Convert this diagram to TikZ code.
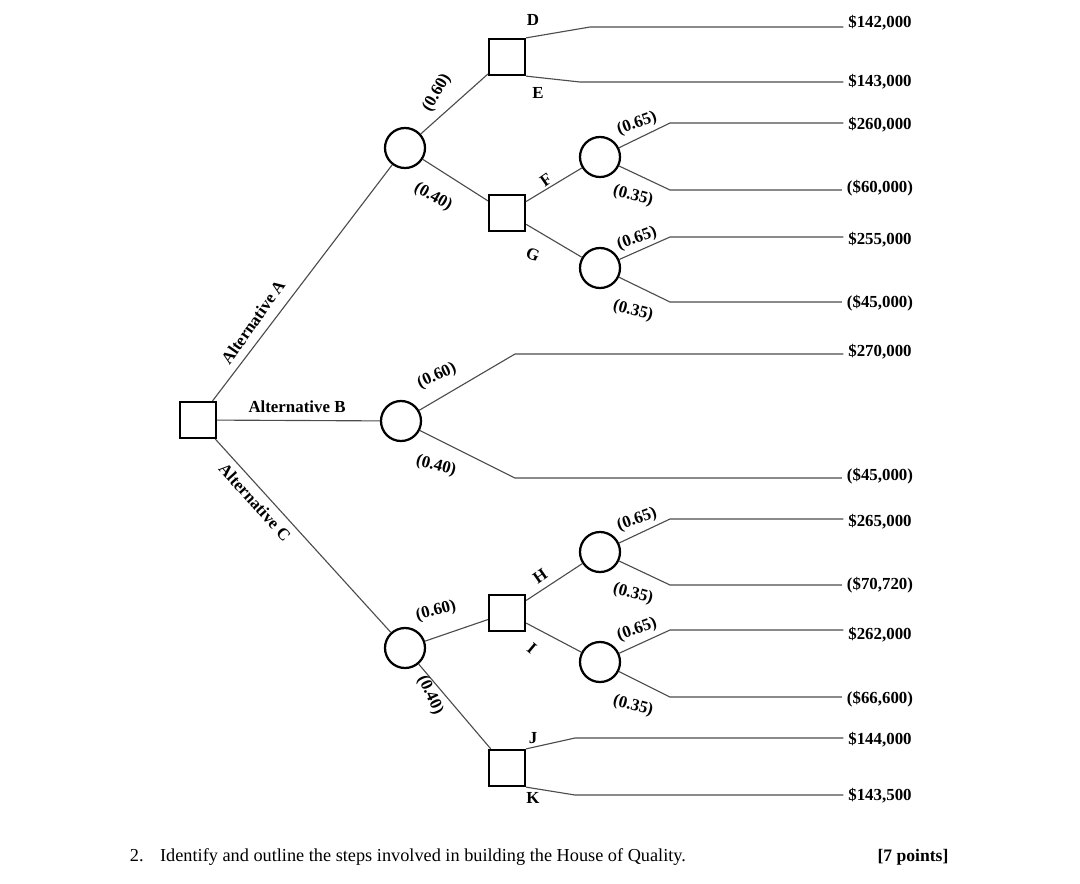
\documentclass[tikz,border=0pt]{standalone}
\usepackage{fontspec}
\setmainfont{Liberation Serif}
\begin{document}
\begin{tikzpicture}[x=0.025cm,y=-0.025cm,
  sq/.style={draw,line width=1.6pt,minimum size=0.9cm,inner sep=0},
  ch/.style={draw,line width=1.6pt,circle,minimum size=1cm,inner sep=0},
  ln/.style={line width=0.8pt,draw=black!70},
  lb/.style={font=\bfseries\fontsize{12}{14}\selectfont,inner sep=1pt},
  val/.style={font=\bfseries\fontsize{12}{14}\selectfont,anchor=center}]
\useasboundingbox (0,0) rectangle (1080,883);
\node[sq] (r) at (198,420) {};
\node[ch] (ca) at (405,148) {};
\node[ch] (cb) at (401,421) {};
\node[ch] (cc) at (405,648) {};
\node[sq] (de) at (507,57) {};
\node[sq] (fg) at (507,213) {};
\node[ch] (cf) at (600,157) {};
\node[ch] (cg) at (600,268) {};
\node[sq] (hi) at (507,613) {};
\node[sq] (jk) at (507,768) {};
\node[ch] (ch) at (600,552) {};
\node[ch] (ci) at (600,662) {};
% values
\foreach \n/\y/\t in {v1/23/{\$142,000},v2/82/{\$143,000},v3/125/{\$260,000},v4/188/{(\$60,000)},v5/240/{\$255,000},v6/303/{(\$45,000)},v7/352/{\$270,000},v8/476/{(\$45,000)},v9/522/{\$265,000},v10/585/{(\$70,720)},v11/635/{\$262,000},v12/699/{(\$66,600)},v13/740/{\$144,000},v14/796/{\$143,500}}
  \node[val] (\n) at (880,\y) {\t};
\coordinate (e1) at (590,27); \coordinate (e2) at (580,82);
\coordinate (e3) at (670,123); \coordinate (e4) at (670,190);
\coordinate (e5) at (670,237); \coordinate (e6) at (670,302);
\coordinate (e7) at (515,354); \coordinate (e8) at (515,478);
\coordinate (e9) at (670,519); \coordinate (e10) at (670,585);
\coordinate (e11) at (670,630); \coordinate (e12) at (670,697);
\coordinate (e13) at (575,738); \coordinate (e14) at (575,795);
\draw[ln] (r) -- (ca); \draw[ln] (r) -- (cb); \draw[ln] (r) -- (cc);
\draw[ln] (ca) -- (de); \draw[ln] (ca) -- (fg);
\draw[ln] (fg) -- (cf); \draw[ln] (fg) -- (cg);
\draw[ln] (cc) -- (hi); \draw[ln] (cc) -- (jk);
\draw[ln] (hi) -- (ch); \draw[ln] (hi) -- (ci);
\draw[ln] (de.north east) -- (e1) -- (v1.west|-e1);
\draw[ln] (de.south east) -- (e2) -- (v2.west|-e2);
\draw[ln] (cf) -- (e3) -- (v3.west|-e3);
\draw[ln] (cf) -- (e4) -- (v4.west|-e4);
\draw[ln] (cg) -- (e5) -- (v5.west|-e5);
\draw[ln] (cg) -- (e6) -- (v6.west|-e6);
\draw[ln] (cb) -- (e7) -- (v7.west|-e7);
\draw[ln] (cb) -- (e8) -- (v8.west|-e8);
\draw[ln] (ch) -- (e9) -- (v9.west|-e9);
\draw[ln] (ch) -- (e10) -- (v10.west|-e10);
\draw[ln] (ci) -- (e11) -- (v11.west|-e11);
\draw[ln] (ci) -- (e12) -- (v12.west|-e12);
\draw[ln] (jk.north east) -- (e13) -- (v13.west|-e13);
\draw[ln] (jk.south east) -- (e14) -- (v14.west|-e14);
% labels
\node[lb,rotate=55] (la) at (253,322) {Alternative A};
\node[lb] (lbb) at (297,407) {Alternative B};
\node[lb,rotate=-48] (lc) at (255,502) {Alternative C};
\node[lb,rotate=60] at (437,93) {(0.60)};
\node[lb,rotate=-30] at (433,197) {(0.40)};
\node[lb] at (533,20) {D};
\node[lb] at (538,93) {E};
\node[lb,rotate=35] at (546,180) {F};
\node[lb,rotate=-20] at (533,255) {G};
\node[lb,rotate=20] at (637,124) {(0.65)};
\node[lb,rotate=-15] at (633,196) {(0.35)};
\node[lb,rotate=20] at (637,239) {(0.65)};
\node[lb,rotate=-15] at (633,311) {(0.35)};
\node[lb,rotate=25] at (437,376) {(0.60)};
\node[lb,rotate=-15] at (436,466) {(0.40)};
\node[lb,rotate=35] at (540,576) {H};
\node[lb,rotate=-40] at (532,648) {I};
\node[lb,rotate=20] at (637,520) {(0.65)};
\node[lb,rotate=-15] at (633,594) {(0.35)};
\node[lb,rotate=20] at (637,630) {(0.65)};
\node[lb,rotate=-15] at (633,706) {(0.35)};
\node[lb,rotate=15] at (436,611) {(0.60)};
\node[lb,rotate=-65] at (430,695) {(0.40)};
\node[lb] at (533,738) {J};
\node[lb] at (533,798) {K};
\node[font=\fontsize{13}{15}\selectfont,anchor=west] (q) at (125,857) {2.\hspace{0.9em}Identify and outline the steps involved in building the House of Quality.};
\node[lb,font=\bfseries\fontsize{12.5}{14}\selectfont] (pts) at (913,857) {[7 points]};
\end{tikzpicture}
\end{document}
